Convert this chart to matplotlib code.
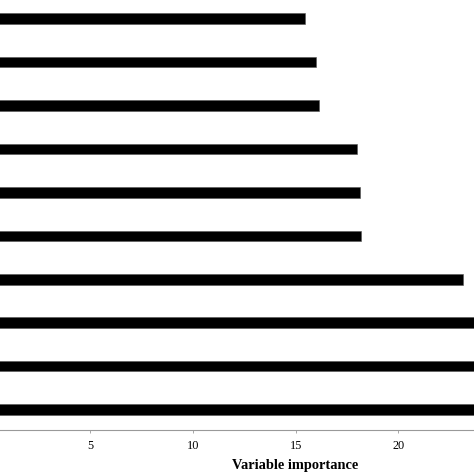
import matplotlib
matplotlib.use("Agg")
import matplotlib.pyplot as plt

# bars listed bottom -> top (the image is cropped, so no names visible)
positions = list(range(10))
importance = [26.0, 25.2, 24.6, 23.15, 18.2, 18.15, 18.0, 16.15, 16.0, 15.45]
ticks = [5, 10, 15, 20]

plt.rcParams['font.family'] = ['Liberation Serif', 'DejaVu Serif']

fig = plt.figure(figsize=(4.74, 4.74), dpi=100)
W = H = 474.0
# axes spans pixel rows 0..430 and the full width
ax = fig.add_axes([0, 1 - 430 / H, 1, 430 / H])

ax.barh(positions, importance, height=0.245, color='black', edgecolor='#555555', linewidth=0.4)

ax.set_xlim(0.62, 23.68)
ax.set_ylim(-0.47, 9.43)
ax.set_xticks(ticks)
ax.set_xticklabels([str(t) for t in ticks], fontsize=8.8)
ax.set_yticks([])
ax.tick_params(axis='x', direction='out', length=2, width=0.6, color='#999999', pad=5.5)

for s in ['top', 'right', 'left']:
    ax.spines[s].set_visible(False)
ax.spines['bottom'].set_color('#999999')
ax.spines['bottom'].set_linewidth(0.8)

fig.text(295 / W, 1 - 465 / H, 'Variable importance', ha='center', va='center',
         fontsize=10.4, fontweight='bold')

fig.savefig('out.png', dpi=100)
